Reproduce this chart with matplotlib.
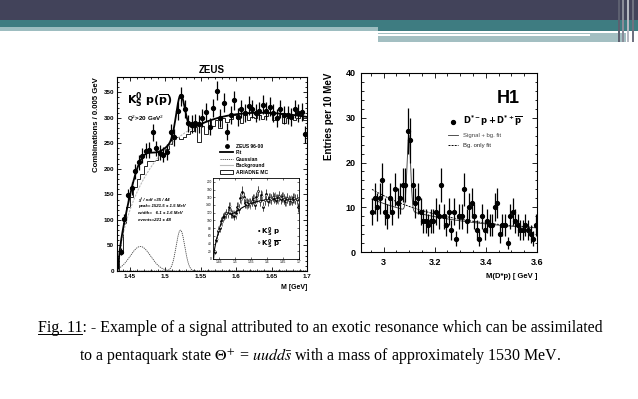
import numpy as np
import matplotlib
matplotlib.use('Agg')
from matplotlib import pyplot as pl
from matplotlib.patches import Rectangle, Patch
from matplotlib.lines import Line2D
from matplotlib.ticker import MultipleLocator

pl.rcParams['font.family'] = ['Liberation Sans', 'DejaVu Sans']
pl.rcParams['mathtext.fontset'] = 'stix'

# ---- ZEUS K0s p(pbar), bins of 0.005 GeV starting at 1.4375
zeus_first = 1.4375
zeus_bw = 0.005
zeus_counts = [38, 102, 148, 162, 195, 213, 226, 236, 237, 272, 240, 232, 228,
               233, 272, 262, 313, 342, 318, 289, 288, 290, 288, 300, 312, 283,
               319, 353, 300, 330, 273, 305, 334, 302, 317, 310, 324, 318, 310,
               313, 326, 313, 322, 310, 300, 317, 305, 306, 302, 317, 309, 312, 268]
zeus_mc = [35, 95, 125, 145, 165, 180, 190, 205, 215, 215, 218, 228, 230,
           238, 248, 258, 262, 258, 262, 268, 275, 282, 252, 285, 268, 295,
           285, 296, 280, 300, 292, 298, 305, 300, 290, 310, 296, 302, 300,
           305, 298, 304, 310, 295, 302, 308, 290, 300, 304, 296, 300, 305, 295]
inset_p = [18, 50, 72, 80, 98, 108, 112, 118, 120, 135, 118, 116, 112, 118,
           136, 130, 158, 175, 160, 144, 146, 143, 146, 150, 156, 141, 160,
           176, 150, 166, 136, 152, 168, 150, 158, 155, 162, 158, 154, 157,
           163, 156, 161, 155, 150, 158, 153, 152, 151, 158, 155, 156, 134]
inset_pbar = [20, 52, 76, 82, 96, 105, 114, 118, 117, 137, 122, 116, 116,
              115, 136, 132, 155, 167, 158, 145, 142, 147, 142, 150, 156, 142,
              159, 177, 150, 164, 137, 153, 166, 152, 159, 155, 162, 160, 156,
              156, 163, 157, 161, 155, 150, 159, 152, 154, 151, 159, 154, 156, 134]
# fit: threshold background + two gaussians
zeus_bg = (310, 1.434, 0.6, 3.0)
zeus_gaus_low = (48, 1.465, 0.0145)
zeus_gaus_peak = (80, 1.5215, 0.0061)

# ---- H1 D*p, bins of 10 MeV starting at 2.955
h1_first = 2.955
h1_bw = 0.01
h1_counts = [9, 12, 10, 12, 16, 9, 8, 12, 9, 14, 11, 12, 15, 15, 27, 25, 15,
             11, 12, 9, 7, 7, 6, 7, 7, 9, 8, 15, 8, 6, 9, 5, 9, 3, 8, 8, 14,
             7, 10, 11, 8, 5, 3, 8, 5, 7, 6, 6, 10, 11, 4, 6, 6, 2, 8, 9, 7,
             6, 5, 5, 6, 5, 4, 3, 6]
h1_bg_only = (4.5, 9.5, 3.53)
h1_bg_sig = (4.3, 7.5, 3.0)
h1_peak = (17, 3.099, 0.007)


def gaus(x, a, mu, s):
    return a*np.exp(-(x-mu)**2/(2*s**2))


def zeus_bgfun(x):
    n, m0, p, b = zeus_bg
    t = np.clip(x-m0, 0, None)
    tmax = p/b
    return n*(t**p*np.exp(-b*t))/(tmax**p*np.exp(-b*tmax))


def expo(x, c, a, k):
    return c + a*np.exp(-k*(x-h1_first))


W, H = 638, 399
fig = pl.figure(figsize=(W/100, H/100), dpi=100)


def box(x0, y0, x1, y1):
    return [x0/W, 1-y1/H, (x1-x0)/W, (y1-y0)/H]


def rect(x0, y0, x1, y1, c):
    b = box(x0, y0, x1, y1)
    fig.add_artist(Rectangle((b[0], b[1]), b[2], b[3], transform=fig.transFigure,
                             color=c, lw=0, zorder=0))


# slide header
rect(0, 0, 638, 20, '#42435a')
rect(0, 20, 638, 27, '#3e7c81')
rect(0, 27, 378, 31, '#9dbdc0')
rect(378, 27, 638, 31, '#3e7c81')
rect(378, 33, 626, 42, '#a3bfc2')
rect(378, 34.5, 590, 36, 'white')
for xs, c in [(618, '#5d6070'), (622, '#8a8c99'), (627, '#b5b7c0'), (632, '#6f7180')]:
    rect(xs, 0, xs+2, 42, c)

bold = dict(fontweight='bold')

# ---------------- ZEUS panel
ax = fig.add_axes(box(117, 77, 307, 271))
m = zeus_first + zeus_bw*np.arange(len(zeus_counts))
edges = np.append(m - zeus_bw/2, m[-1] + zeus_bw/2)
ax.stairs(zeus_mc, edges, color='black', lw=0.6, zorder=1)
xx = np.linspace(1.434, 1.7, 400)
bg = zeus_bgfun(xx)
ax.plot(xx, bg, color='#bbbbbb', lw=0.8, ls=(0, (2, 1)), zorder=2)
ax.plot(xx, gaus(xx, *zeus_gaus_low), color='#444444', lw=0.6, ls=(0, (1.5, 1)), zorder=2)
ax.plot(xx, gaus(xx, *zeus_gaus_peak), color='#444444', lw=0.6, ls=(0, (1.5, 1)), zorder=2)
ax.plot(xx, bg + gaus(xx, *zeus_gaus_low) + gaus(xx, *zeus_gaus_peak),
        color='black', lw=1.3, zorder=3)
ax.errorbar(m, zeus_counts, yerr=np.sqrt(zeus_counts), fmt='o', ms=2.8,
            color='black', elinewidth=0.9, capsize=0, zorder=4)
ax.set_xlim(1.432, 1.7)
ax.set_ylim(0, 380)
ax.set_xticks([1.45, 1.5, 1.55, 1.6, 1.65, 1.7])
ax.set_xticklabels(['1.45', '1.5', '1.55', '1.6', '1.65', '1.7'])
ax.set_yticks(np.arange(0, 351, 50))
ax.xaxis.set_minor_locator(MultipleLocator(0.01))
ax.yaxis.set_minor_locator(MultipleLocator(10))
ax.tick_params(which='both', direction='in', top=True, right=True, labelsize=4.5,
               width=0.6, pad=2)
ax.tick_params(which='major', length=3)
ax.tick_params(which='minor', length=1.5)
for t in ax.get_xticklabels() + ax.get_yticklabels():
    t.set_fontweight('bold')
for s in ax.spines.values():
    s.set_linewidth(0.8)
ax.set_ylabel('Combinations / 0.005 GeV', fontsize=5.6, labelpad=3, loc='top', **bold)
ax.text(1.0, -0.065, 'M [GeV]', transform=ax.transAxes, ha='right', va='top',
        fontsize=5, **bold)
ax.set_title('ZEUS', fontsize=7, pad=3, **bold)
ax.text(0.05, 0.93, r'$\mathbf{K^0_S\ p(\overline{p})}$', transform=ax.transAxes,
        fontsize=8, va='top', math_fontfamily='dejavusans')
ax.text(0.05, 0.81, r'Q$^2$>20 GeV$^2$', transform=ax.transAxes, fontsize=4.5,
        va='top', math_fontfamily='dejavusans', **bold)
stats = ['\u03c7\u00b2 / ndf =35 / 44', 'peak= 1521.5 \u00b1 1.5 MeV',
         'width=   6.1 \u00b1 1.6 MeV', 'events=221 \u00b1 48']
for i, s in enumerate(stats):
    ax.text(0.11, 0.37 - i*0.036, s, transform=ax.transAxes, fontsize=3.2,
            style='italic', va='center', **bold)
handles = [Line2D([], [], marker='o', ls='none', color='black', ms=2.5),
           Line2D([], [], color='black', lw=1.3),
           Line2D([], [], color='#444444', lw=0.6, ls=(0, (1.5, 1))),
           Line2D([], [], color='#bbbbbb', lw=0.8),
           Patch(facecolor='white', edgecolor='black', lw=0.6)]
leg = ax.legend(handles, ['ZEUS 96-00', 'Fit', 'Gaussian', 'Background', 'ARIADNE MC'],
                loc='upper left', bbox_to_anchor=(0.53, 0.67), frameon=False,
                fontsize=3.6, handlelength=2.6, handleheight=0.8, labelspacing=0.3,
                borderpad=0, handletextpad=0.5)
for t in leg.get_texts():
    t.set_fontweight('bold')

# inset
ins = fig.add_axes(box(213, 178, 299, 259))
ins.errorbar(m, inset_p, yerr=np.sqrt(inset_p), fmt='o', ms=1.0, color='black',
             elinewidth=0.5, capsize=0)
ins.errorbar(m + 0.0012, inset_pbar, yerr=np.sqrt(inset_pbar), fmt='o', ms=1.0,
             mfc='white', color='#555555', elinewidth=0.5, capsize=0, mew=0.3)
ins.plot(xx, (bg + gaus(xx, *zeus_gaus_low))/2, color='black', lw=0.8)
ins.set_xlim(1.432, 1.7)
ins.set_ylim(0, 210)
ins.set_xticks([1.45, 1.5, 1.55, 1.6, 1.65, 1.7])
ins.set_xticklabels(['1.45', '1.5', '1.55', '1.6', '1.65', '1.7'])
ins.set_yticks(np.arange(0, 201, 20))
ins.tick_params(which='both', direction='in', top=True, right=True, labelsize=2.3,
                width=0.4, length=1.5, pad=1)
for s in ins.spines.values():
    s.set_linewidth(0.6)
ins.text(0.5, 0.3, r'$\bullet\,\mathbf{K^0_S\ p}$', transform=ins.transAxes,
         fontsize=5, math_fontfamily='dejavusans')
ins.text(0.5, 0.15, r'$\circ\,\mathbf{K^0_S\ \overline{p}}$', transform=ins.transAxes,
         fontsize=5, math_fontfamily='dejavusans')

# ---------------- H1 panel
bx = fig.add_axes(box(361, 73, 537, 252))
hm = h1_first + h1_bw*np.arange(len(h1_counts))
xh = np.linspace(2.955, 3.6, 400)
bx.plot(xh, expo(xh, *h1_bg_only), color='black', lw=0.7, ls=(0, (2, 1.2)))
bx.plot(xh, expo(xh, *h1_bg_sig) + gaus(xh, *h1_peak), color='#333333', lw=0.6)
bx.errorbar(hm, h1_counts, yerr=np.sqrt(h1_counts), fmt='o', ms=2.8,
            color='black', elinewidth=0.9, capsize=0)
bx.set_xlim(2.912, 3.6)
bx.set_ylim(0, 40)
bx.set_xticks([3.0, 3.2, 3.4, 3.6])
bx.set_xticklabels(['3', '3.2', '3.4', '3.6'])
bx.set_yticks([0, 10, 20, 30, 40])
bx.xaxis.set_minor_locator(MultipleLocator(0.05))
bx.yaxis.set_minor_locator(MultipleLocator(2))
bx.tick_params(which='both', direction='in', top=True, right=True, labelsize=6.5,
               width=0.6, pad=4)
bx.tick_params(which='major', length=3.5)
bx.tick_params(which='minor', length=1.8)
for t in bx.get_xticklabels() + bx.get_yticklabels():
    t.set_fontweight('bold')
for s in bx.spines.values():
    s.set_linewidth(0.8)
bx.set_ylabel('Entries per 10 MeV', fontsize=7, labelpad=8, loc='top', **bold)
bx.text(1.0, -0.12, 'M(D*p) [ GeV ]', transform=bx.transAxes, ha='right',
        va='top', fontsize=5.5, **bold)
bx.text(0.9, 0.83, 'H1', transform=bx.transAxes, ha='right', fontsize=13, **bold)
hh = [Line2D([], [], marker='o', ls='none', color='black', ms=2.8),
      Line2D([], [], color='#333333', lw=0.6),
      Line2D([], [], color='black', lw=0.7, ls=(0, (2, 1.2)))]
leg2 = bx.legend(hh, [r'$\mathbf{D^{*-}p + D^{*+}\overline{p}}$', 'Signal + bg. fit',
                      'Bg. only fit'], loc='upper left', bbox_to_anchor=(0.48, 0.79),
                 frameon=False, fontsize=4.3, handlelength=1.6, labelspacing=0.7,
                 borderpad=0, handletextpad=0.8)
tx = leg2.get_texts()
tx[0].set_fontsize(6)
tx[0].set_math_fontfamily('dejavusans')
tx[1].set_color('#444444')
tx[2].set_color('#222222')

# ---------------- caption
serif = dict(family='Liberation Serif', fontsize=11.5, ha='center', va='baseline')
line1 = 'Fig. 11: - Example of a signal attributed to an exotic resonance which can be assimilated'
t1 = fig.text(320/W, 1-332/H, line1, **serif)
fig.text(320/W, 1-360/H,
         r'to a pentaquark state $\Theta^{+}$ = $uudd\bar{s}$ with a mass of approximately 1530 MeV.',
         **serif)

# underline "Fig. 11"
fig.canvas.draw()
r = fig.canvas.get_renderer()
bb = t1.get_window_extent(r)
tmp = fig.text(0, 0, 'Fig. 11', family='Liberation Serif', fontsize=11.5)
wb = tmp.get_window_extent(r)
tmp.remove()
ybase = 1 - 334/H
fig.add_artist(Line2D([bb.x0/W, (bb.x0 + wb.width)/W], [ybase, ybase],
                      transform=fig.transFigure, color='black', lw=0.7))

fig.savefig('out.png', dpi=100)
